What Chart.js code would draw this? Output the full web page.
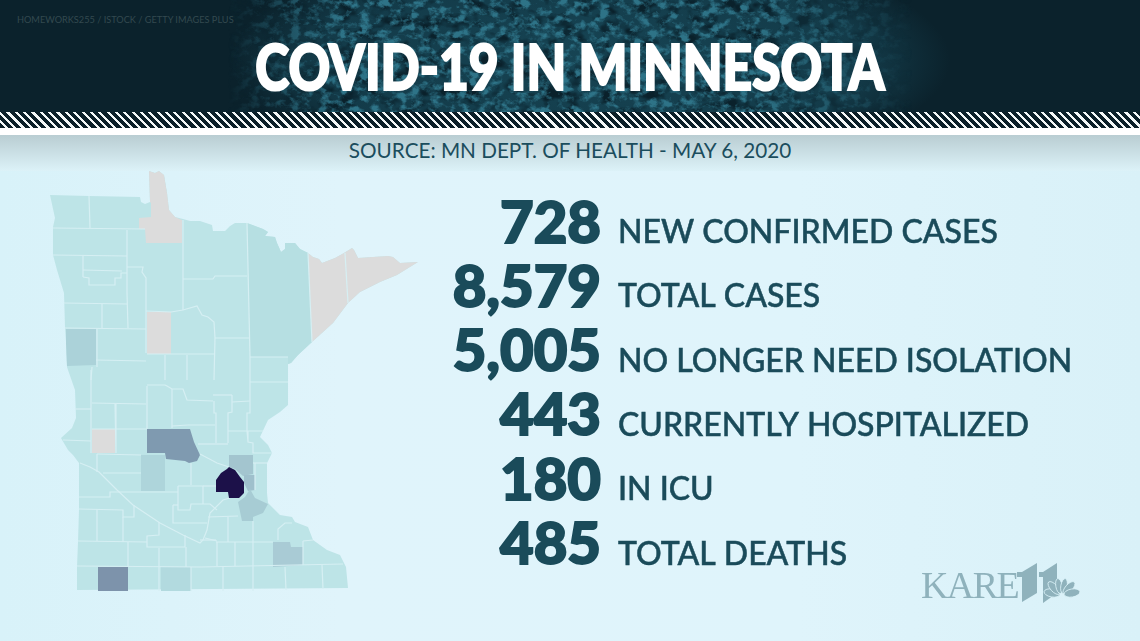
<!DOCTYPE html>
<html>
<head>
<meta charset="utf-8">
<title>COVID-19 in Minnesota</title>
<script src="https://cdn.jsdelivr.net/npm/chart.js@4"></script>
<style>
html, body { margin: 0; padding: 0; }
body { width: 1140px; height: 641px; overflow: hidden; position: relative; font-family: Lato, sans-serif;
  background: linear-gradient(90deg, #d8f2f9 0, #e0f4fb 30%, #dff4fb 70%, #d9f1f8 100%); }
.abs { position: absolute; }
#header { left: 0; top: 0; width: 1140px; height: 112px; background: #0b222c; overflow: hidden; }
#header svg { position: absolute; left: 0; top: 0; }
#hatch { left: 0; top: 112px; width: 1140px; height: 16px;
  background: repeating-linear-gradient(45deg, #0b1f28 0, #0b1f28 3.7px, #f4f8f8 3.7px, #f4f8f8 5.9px); }
#rule { left: 0; top: 128px; width: 1140px; height: 7px; background: #fff; }
#shade { left: 0; top: 135px; width: 1140px; height: 36px; background: linear-gradient(#b9cdd2, #dcf2f8); }
#title { left: 0; top: 29px; width: 1140px; text-align: center; color: #fff; font-weight: 900; font-size: 62px; line-height: 74px; white-space: nowrap;
  transform: scaleX(0.83); -webkit-text-stroke: 2.2px #fff; }
#credit { left: 17px; top: 13px; color: #33494f; font-size: 9.2px; line-height: 14px; white-space: nowrap; }
#source { left: 0; top: 137px; width: 1140px; text-align: center; color: #1b4d5d; font-size: 20.7px; line-height: 26px; white-space: nowrap; }
#kare { left: 921px; top: 563px; color: #8fb2bc; font-family: "Liberation Serif", serif; font-size: 38px; line-height: 44px; letter-spacing: -1.6px; white-space: nowrap; }
#mapChart { left: 0; top: 160px; }
#statChart { left: 440px; top: 189px; }
</style>
</head>
<body>
<div class="abs" id="header">
  <svg width="1140" height="112">
    <defs>
      <filter id="grain" x="0" y="0" width="100%" height="100%" color-interpolation-filters="sRGB">
        <feTurbulence type="fractalNoise" baseFrequency="0.1 0.13" numOctaves="4" seed="7"/>
        <feColorMatrix type="matrix" values="0 0 0 0 0.18  0 0 0 0 0.45  0 0 0 0 0.53  3 3 0 0 -2.85"/>
      </filter>
      <filter id="dark" x="0" y="0" width="100%" height="100%" color-interpolation-filters="sRGB">
        <feTurbulence type="fractalNoise" baseFrequency="0.05 0.07" numOctaves="3" seed="21"/>
        <feColorMatrix type="matrix" values="0 0 0 0 0.04  0 0 0 0 0.13  0 0 0 0 0.17  3 3 0 0 -2.9"/>
      </filter>
      <linearGradient id="fade" x1="0" x2="1" y1="0" y2="0">
        <stop offset="0.2" stop-color="#000"/>
        <stop offset="0.3" stop-color="#fff"/>
        <stop offset="0.66" stop-color="#fff"/>
        <stop offset="0.8" stop-color="#000"/>
      </linearGradient>
      <mask id="fadeMask"><rect width="1140" height="112" fill="url(#fade)"/></mask>
      <radialGradient id="glow"><stop offset="0" stop-color="#174656" stop-opacity="0.95"/><stop offset="0.75" stop-color="#174656" stop-opacity="0.7"/><stop offset="1" stop-color="#174656" stop-opacity="0"/></radialGradient>
    </defs>
    <ellipse cx="590" cy="60" rx="360" ry="120" fill="url(#glow)"/>
    <rect width="1140" height="112" filter="url(#dark)" mask="url(#fadeMask)"/>
    <rect width="1140" height="112" filter="url(#grain)" mask="url(#fadeMask)"/>
  </svg>
</div>
<div class="abs" id="hatch"></div>
<div class="abs" id="rule"></div>
<div class="abs" id="shade"></div>
<div class="abs" id="credit">HOMEWORKS255 / ISTOCK / GETTY IMAGES PLUS</div>
<div class="abs" id="title">COVID-19 IN MINNESOTA</div>
<div class="abs" id="source">SOURCE: MN DEPT. OF HEALTH - MAY 6, 2020</div>
<canvas class="abs" id="mapChart" width="440" height="450"></canvas>
<canvas class="abs" id="statChart" width="660" height="391"></canvas>
<div class="abs" id="kare">KARE</div>
<svg class="abs" style="left:1010px;top:555px" width="80" height="55" fill="#8fb2bc">
  <polygon points="7,17 12,17 27,8 27,38 12,47 12,22 7,22"/>
  <polygon points="29,17 33,17 47,8 47,38 33,48 33,22 29,22"/>
  <g transform="translate(51,41)" stroke="#dcf3f9" stroke-width="0.8">
    <ellipse cx="-9" cy="-3" rx="8" ry="4" transform="rotate(10 -9 -3)"/>
    <ellipse cx="-7" cy="-8" rx="8" ry="3.6" transform="rotate(48 -7 -8)"/>
    <ellipse cx="-2" cy="-10" rx="7.5" ry="3.2" transform="rotate(80 -2 -10)"/>
    <ellipse cx="3" cy="-10" rx="7.5" ry="3.2" transform="rotate(100 3 -10)"/>
    <ellipse cx="8" cy="-8" rx="8" ry="3.6" transform="rotate(132 8 -8)"/>
    <ellipse cx="11" cy="-3" rx="8" ry="4" transform="rotate(170 11 -3)"/>
  </g>
</svg>
<script>
// the numbers on the right
const statValues = [728, 8579, 5005, 443, 180, 485];
const statNames = ['NEW CONFIRMED CASES', 'TOTAL CASES', 'NO LONGER NEED ISOLATION', 'CURRENTLY HOSPITALIZED', 'IN ICU', 'TOTAL DEATHS'];

// map outline and shaded counties (x, y in map units)
const stateOutline = [[50,195],[89,196],[140,197],[141,202],[145,204],[150,202],[149,171],[155,173],[159,171],[164,175],[167,193],[169,210],[175,217],[183,219],[190,221],[200,221],[212,225],[213,231],[225,231],[230,226],[235,223],[247,223],[263,229],[268,232],[265,236],[275,237],[277,243],[281,252],[285,249],[285,243],[295,243],[300,249],[308,253],[313,257],[319,259],[322,263],[335,258],[344,253],[352,248],[354,250],[358,258],[388,256],[393,257],[400,263],[418,262],[397,275],[380,282],[360,292],[348,303],[333,323],[312,342],[298,355],[291,363],[288,364],[288,405],[280,412],[268,420],[260,437],[268,445],[272,453],[267,463],[267,493],[268,503],[280,515],[292,517],[295,522],[308,527],[313,540],[327,550],[340,555],[346,567],[348,588],[77,590],[77,567],[78,542],[79,510],[79,463],[73,455],[68,450],[61,438],[72,428],[76,418],[75,390],[68,370],[67,367],[66,342],[65,327],[64,293],[57,270],[53,255],[53,227],[55,218]];
const stLouis = [[247,223],[263,229],[268,232],[265,236],[275,237],[277,243],[281,252],[285,249],[285,243],[295,243],[300,249],[308,253],[312,342],[298,355],[291,363],[288,364],[288,357],[250,357]];
const lakeCounties = [[308,253],[313,257],[319,259],[322,263],[335,258],[344,253],[352,248],[354,250],[358,258],[388,256],[393,257],[400,263],[418,262],[397,275],[380,282],[360,292],[348,303],[333,323],[312,342]];
const lakeOfWoods = [[149,171],[155,173],[159,171],[164,175],[167,193],[169,210],[175,217],[182,220],[182,243],[146,243],[145,229],[139,229],[139,218],[151,217],[151,203],[150,202]];
const hubbard = [[147,312],[171,312],[171,354],[147,354]];
const swift = [[92,429],[115,429],[115,453],[92,453]];
const clay = [[66,329],[96,329],[96,365],[67,366],[66,342]];
const kandiyohi = [[141,455],[165,455],[165,491],[141,491]];
const stearns = [[147,429],[190,429],[194,442],[200,455],[197,461],[189,463],[185,461],[166,459],[165,453],[147,453]];
const nobles = [[98,567],[128,567],[128,591],[98,591]];
const jackson = [[161,567],[191,567],[191,591],[161,591]];
const sherburne = [[229,455],[253,455],[253,474],[243,476],[235,469],[229,467]];
const ramsey = [[244,475],[255,475],[255,490],[248,491],[244,483]];
const dakota = [[250,489],[255,498],[268,504],[263,513],[253,517],[253,521],[242,521],[238,502],[245,497]];
const olmsted = [[273,542],[290,542],[291,547],[303,547],[303,565],[273,567]];
const hennepin = [[229,467],[235,470],[240,477],[244,482],[244,493],[239,498],[229,498],[228,492],[216,492],[216,480],[221,473],[227,469]];

// county borders, one polyline each
const northBorders = [
  [[89,196],[90,228]], [[53,228],[145,229]], [[127,230],[127,293],[128,328]], [[53,255],[127,256]],
  [[83,256],[83,277]], [[83,270],[122,271]], [[83,277],[89,278],[89,285],[115,285],[115,278],[121,278],[121,273],[127,273]],
  [[64,303],[127,304]], [[102,304],[102,328]], [[65,328],[146,329]], [[127,267],[143,267],[142,272],[146,278],[146,353]],
  [[146,311],[171,312],[183,310],[197,306],[202,315],[208,317],[214,322],[215,338],[214,380]],
  [[183,220],[183,310]], [[183,279],[213,279],[215,276],[247,276]], [[215,338],[249,338]], [[97,329],[97,367]],
  [[96,360],[146,361]], [[92,367],[91,380]], [[147,354],[215,354]], [[165,355],[165,380]], [[187,355],[187,380]],
  [[247,223],[250,357]], [[250,357],[288,357]], [[308,253],[312,342]], [[345,253],[348,303]], [[250,357],[250,382]],
];
const centerBorders = [
  [[91,370],[91,453]], [[75,409],[91,409]], [[92,403],[146,404]], [[115,404],[116,453]], [[92,429],[147,429]],
  [[63,440],[91,441]], [[147,385],[165,385],[167,386],[172,389],[183,389],[187,400],[213,401]], [[147,386],[147,429]],
  [[172,389],[172,428]], [[172,426],[188,425],[215,425]], [[214,401],[214,413],[216,413],[216,443]],
  [[232,395],[232,412],[228,413],[228,443]], [[198,444],[228,444]], [[213,395],[232,395]],
  [[200,454],[217,463],[229,467]], [[191,463],[191,485]], [[232,402],[250,401]], [[250,382],[288,382]],
  [[250,382],[250,413],[247,413],[247,431]], [[228,431],[263,431]], [[247,431],[248,442],[253,443],[253,453],[272,453]],
  [[253,463],[267,463]], [[255,463],[255,490]], [[97,454],[97,472]], [[97,454],[141,455]], [[103,473],[141,473]],
];
const southBorders = [
  [[80,463],[90,467],[99,472],[117,490],[133,505],[160,523],[183,535],[200,543],[203,540],[207,530],[210,513],[223,500],[230,498]],
  [[128,492],[178,492]], [[178,486],[203,486],[203,504]], [[178,486],[178,510],[190,510],[191,504],[210,504],[217,510]],
  [[203,486],[216,486]], [[173,505],[178,505]], [[173,505],[173,523],[207,523]], [[79,497],[110,497],[110,492],[128,492]],
  [[79,509],[123,510],[123,517],[134,517],[134,505]], [[97,510],[97,541]], [[123,517],[123,542]], [[78,541],[147,542]],
  [[159,522],[159,535],[147,536],[147,547],[185,547],[185,535]], [[128,542],[128,567]], [[77,566],[200,567],[343,564]],
  [[159,548],[159,591]], [[186,547],[186,567]], [[191,567],[191,591]], [[223,567],[223,591]], [[205,538],[217,541]],
  [[217,542],[217,566]], [[208,517],[238,516]], [[228,517],[228,542]], [[200,540],[216,540]], [[216,542],[273,542]],
  [[235,542],[235,566]], [[253,521],[253,591]], [[278,540],[278,529],[285,523],[292,523]], [[303,541],[313,540]],
  [[303,541],[303,565]], [[285,567],[286,590]], [[322,565],[323,589]],
];

const toPoints = shape => shape.map(p => ({x: p[0], y: p[1]}));

// filled shape, closes on itself through fill:'shape'
function area(shape, color) {
  return {data: toPoints(shape), showLine: true, fill: 'shape', backgroundColor: color, borderColor: color,
    borderWidth: 0, pointRadius: 0, clip: false};
}
function border(line) {
  return {data: toPoints(line), showLine: true, fill: false, borderColor: '#d6eff3', borderWidth: 1.2,
    pointRadius: 0, clip: false};
}

const mapSets = [
  area(stateOutline, '#bde4e7'),
  area(stLouis, '#b6dfe2'),
  area(lakeCounties, '#dcdcdc'),
  area(lakeOfWoods, '#dcdcdc'),
  area(hubbard, '#dcdcdc'),
  area(swift, '#dcdcdc'),
  area(clay, '#abd2d9'),
  area(kandiyohi, '#aed5db'),
  area(stearns, '#7f9ab0'),
  area(nobles, '#7d93ab'),
  area(jackson, '#b2dadf'),
  area(sherburne, '#a3c5cf'),
  area(ramsey, '#9fc0cc'),
  area(dakota, '#a7ccd4'),
  area(olmsted, '#a9cbd5'),
].concat(northBorders.concat(centerBorders, southBorders).map(border));
// Hennepin goes on top of the border lines
mapSets.push(area(hennepin, '#1c1149'));
// chart.js paints the first dataset last
mapSets.reverse();

new Chart(document.getElementById('mapChart').getContext('2d'), {
  type: 'scatter',
  data: {datasets: mapSets},
  options: {
    responsive: false,
    animation: false,
    layout: {padding: 0},
    plugins: {legend: {display: false}, tooltip: {enabled: false}},
    scales: {
      x: {type: 'linear', display: false, min: 0, max: 440},
      y: {type: 'linear', display: false, min: 160, max: 610, reverse: true},
    },
  },
});

const textColor = '#1a4b5a';

new Chart(document.getElementById('statChart').getContext('2d'), {
  type: 'line',
  data: {
    datasets: [
      {data: statValues.map((v, i) => ({x: 0, y: i})), yAxisID: 'yNum', showLine: false, pointRadius: 0},
      {data: statValues.map((v, i) => ({x: 0, y: i})), yAxisID: 'yName', showLine: false, pointRadius: 0},
    ],
  },
  options: {
    responsive: false,
    animation: false,
    layout: {padding: 0},
    plugins: {legend: {display: false}, tooltip: {enabled: false}},
    scales: {
      x: {type: 'linear', display: false, min: 0, max: 1},
      yNum: {
        type: 'category',
        position: 'left',
        labels: statValues.map(v => v.toLocaleString('en-US')),
        grid: {display: false, drawTicks: false},
        border: {display: false},
        ticks: {color: textColor, font: {family: 'Lato', weight: '900', size: 58}, padding: 0, autoSkip: false,
          textStrokeColor: textColor, textStrokeWidth: 2},
        afterFit: s => { s.width = 161; },
      },
      yName: {
        type: 'category',
        position: 'right',
        labels: statNames,
        grid: {display: false, drawTicks: false},
        border: {display: false},
        ticks: {color: textColor, font: {family: 'Lato', weight: '500', size: 32}, padding: 0, autoSkip: false, labelOffset: 9,
          textStrokeColor: textColor, textStrokeWidth: 0.5},
        afterFit: s => { s.width = 482; },
      },
    },
  },
});
</script>
</body>
</html>
